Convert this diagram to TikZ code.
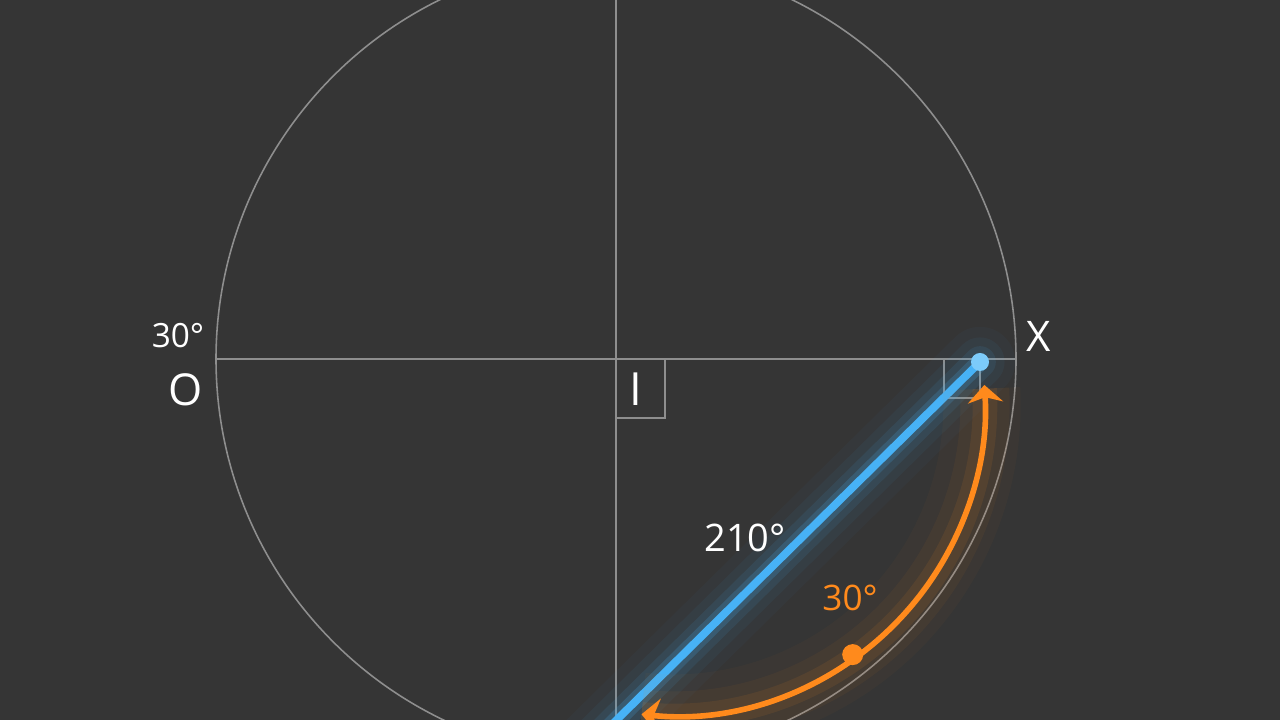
\documentclass[tikz,border=0pt]{standalone}
\usepackage{fontspec}
\setmainfont{Open Sans}
\usetikzlibrary{arrows.meta}
\definecolor{bgdark}{HTML}{353535}
\definecolor{gridgray}{HTML}{8E8E8E}
\definecolor{rayblue}{HTML}{47B2F6}
\definecolor{dotblue}{HTML}{7CCBFA}
\definecolor{arcorange}{HTML}{FF8A1C}

\begin{document}
\begin{tikzpicture}[>=latex, x=1cm, y=1cm]

\fill[bgdark](0,0)rectangle(12.8,7.2);
			\useasboundingbox(0,0)rectangle(12.8,7.2);
			\clip(0,0)rectangle(12.8,7.2);
			
			\coordinate (C) at (6.16,3.61);
			\coordinate (P) at (9.80,3.58);
			\coordinate (B) at (5.80,-0.36);
			\coordinate (A) at (6.74,3.15);
			
			\draw[color=gridgray, line width=0.45pt](C)circle(4.00); 
			\draw[color=gridgray, line width=0.45pt](2.16,3.61)--(10.16,3.61); 
			\draw[color=gridgray, line width=0.45pt](6.16,7.2)--(6.16,0);
			\draw[color=gridgray, line width=0.45pt](C)rectangle(6.65,3.02);
			\draw[color=gridgray, line width=0.45pt](9.44,3.61)rectangle(9.80,3.22);
			
			\draw[color=rayblue, line width=20pt, opacity=0.03, line cap=round](B)--(P);
			\draw[color=rayblue, line width=14pt, opacity=0.05, line cap=round](B)--(P);
			\draw[color=rayblue, line width=9pt, opacity=0.09, line cap=round](B)--(P);
			\draw[color=rayblue, line width=5pt, opacity=0.18](B)--(P);
			\draw[color=rayblue, line width=2.2pt](B)--(P);
			\fill[color=dotblue](P)circle(0.09);
			
			\draw[color=arcorange, line width=22pt, opacity=0.03]([shift={(-96:3.08)}]A)arc[start angle=-96, end angle=3, radius=3.08];
			\draw[color=arcorange, line width=14pt, opacity=0.05]([shift={(-96:3.11)}]A)arc[start angle=-96, end angle=3, radius=3.11];
			\draw[color=arcorange, line width=7pt, opacity=0.09]([shift={(-96:3.11)}]A)arc[start angle=-96, end angle=3, radius=3.11];
			\draw[color=arcorange, line width=1.6pt, {Stealth[length=5pt, width=10pt, inset=1.5pt]}-{Stealth[length=5pt, width=10pt, inset=1.5pt]}]([shift={(-96:3.11)}]A)arc[start angle=-96, end angle=3.7, radius=3.11];
			\fill[color=arcorange]([shift={(-54.4:3.07)}]A)circle(0.105);
			
			\node[white, font=\fontsize{9.5}{11}\selectfont] (angleleft) at (1.78,3.84){30°};
			\node[white, font=\fontsize{12.5}{14}\selectfont] (pointO) at (1.86,3.30){O};
			\node[white, font=\fontsize{12}{14}\selectfont] (pointX) at (10.39,3.84){X};
			\node[white, font=\fontsize{13}{15}\selectfont] (pointI) at (6.36,3.31){I};
			\node[white, font=\fontsize{10.8}{13}\selectfont] (angleray) at (7.45,1.82){210°};
			\node[color=arcorange, font=\fontsize{10}{12}\selectfont] (anglearc) at (8.50,1.22){30°};

		\end{tikzpicture}
\end{document}
